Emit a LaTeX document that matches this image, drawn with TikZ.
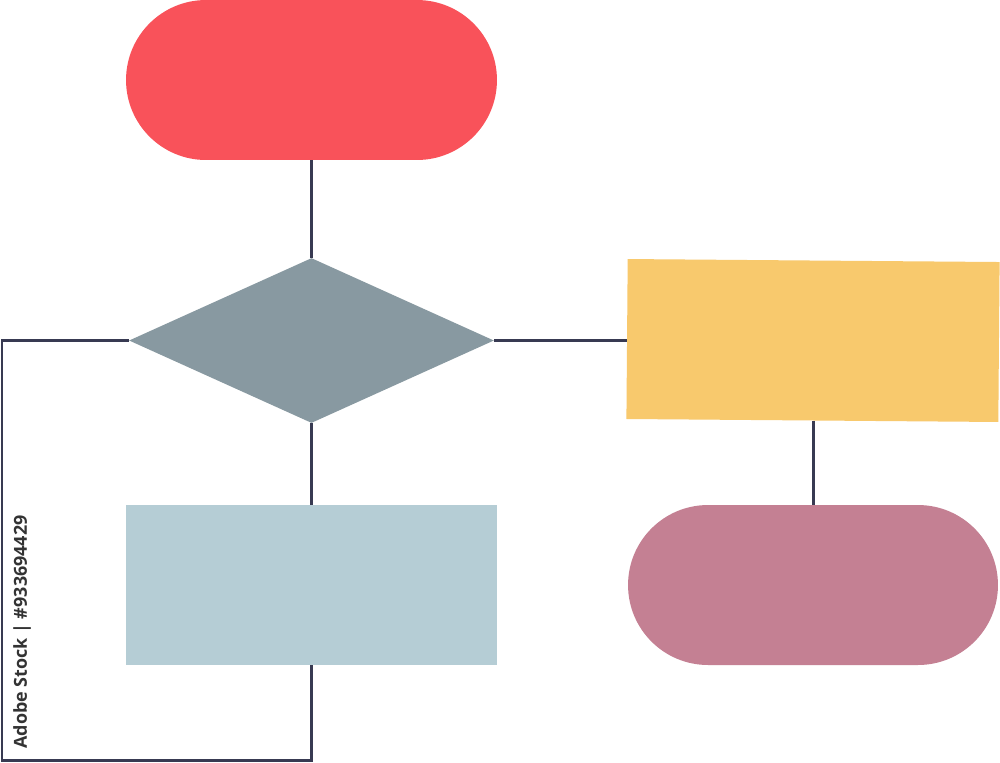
\documentclass[tikz,border=0pt]{standalone}
\usepackage{fontspec}
\setmainfont{Open Sans}
\usetikzlibrary{shapes.geometric}
\definecolor{cred}{HTML}{F9525A}
\definecolor{cgrey}{HTML}{8899A1}
\definecolor{cblue}{HTML}{B5CDD5}
\definecolor{cyellow}{HTML}{F8C96D}
\definecolor{cplum}{HTML}{C48093}
\definecolor{cline}{HTML}{383A52}
\definecolor{ctext}{HTML}{333333}
\tikzset{
  stadium/.style={rectangle, inner sep=0pt, minimum width=7.42cm, minimum height=3.2cm, rounded corners=1.6cm},
  boxnode/.style={rectangle, inner sep=0pt, minimum width=7.42cm, minimum height=3.2cm},
  link/.style={draw=cline, line width=1.7pt},
}
\begin{document}
\begin{tikzpicture}[x=0.02cm, y=-0.02cm]
\useasboundingbox[fill=white] (0,0) rectangle (1000,762);
\node[stadium, fill=cred] (start) at (311.5,80) {};
\node[diamond, fill=cgrey, inner sep=0pt, aspect=2.21, minimum width=7.3cm, minimum height=3.3cm] (dec) at (311.5,340.5) {};
\node[boxnode, fill=cblue] (proc) at (311.5,585) {};
\node[boxnode, fill=cyellow, minimum width=7.44cm, rotate=-0.46] (yel) at (813,340.5) {};
\node[stadium, fill=cplum, minimum width=7.4cm] (stop) at (813,585) {};
\coordinate (c1) at (2,340.5);
\coordinate (c2) at (2,760);
\coordinate (c3) at (proc.south |- c2);
\draw[link] (start.south) -- (dec.north);
\draw[link] (dec.south) -- (proc.north);
\draw[link] (dec.east) -- (dec.east -| yel.west);
\draw[link] (stop.north |- yel.south) -- (stop.north);
\draw[link, line join=miter] (dec.west) -- (c1) -- (c2) -- (c3) -- (proc.south);
\node[rotate=90, text=ctext, font=\fontsize{10.2pt}{11pt}\selectfont\bfseries, inner sep=0pt] (wm) at (22,632) {Adobe Stock | \#933694429};
\end{tikzpicture}
\end{document}
